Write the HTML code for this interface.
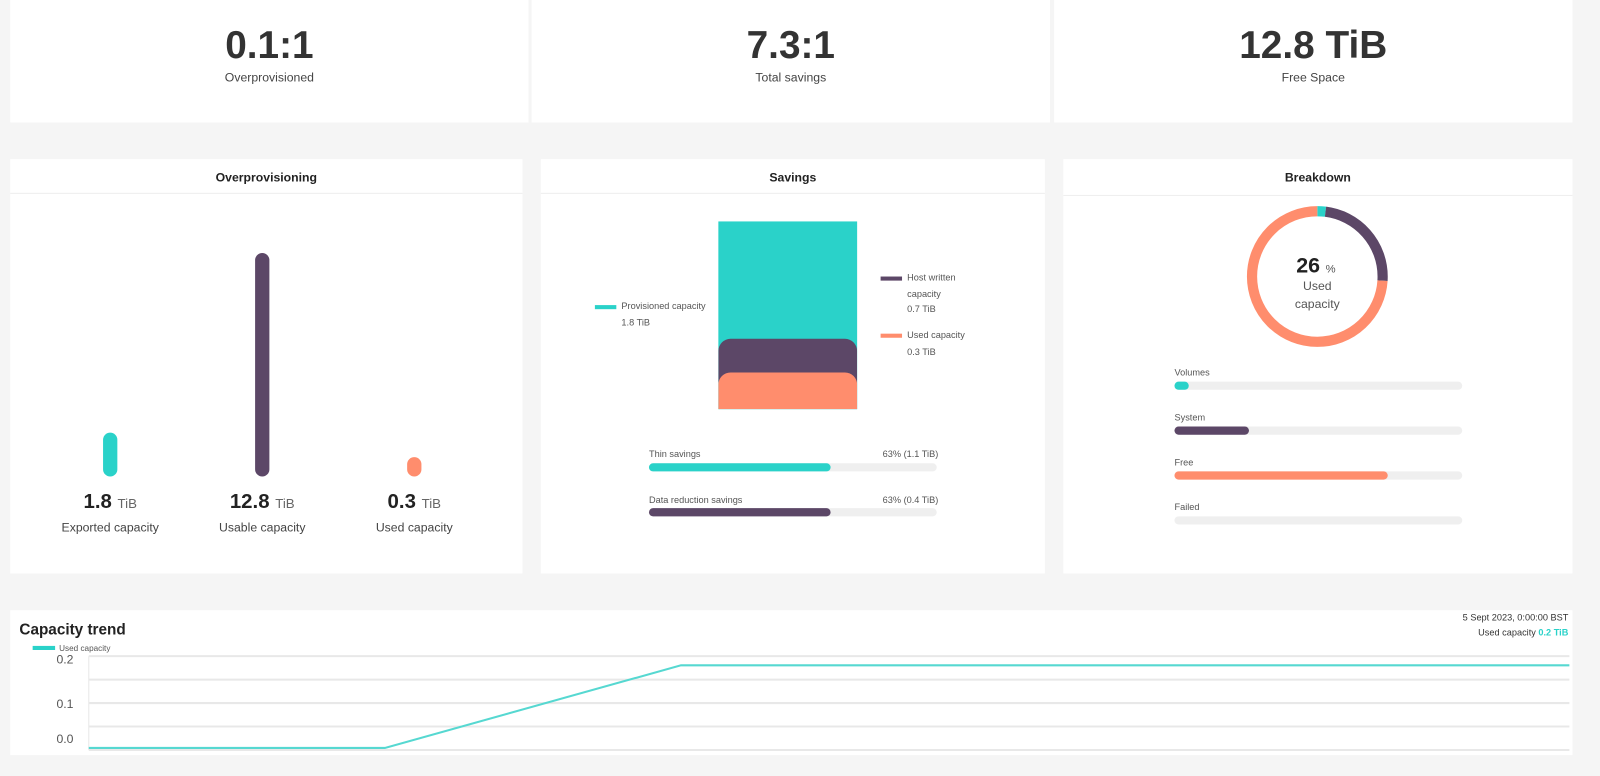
<!DOCTYPE html>
<html><head><meta charset="utf-8">
<style>
*{box-sizing:border-box;margin:0;padding:0}
body{width:1600px;height:776px;background:#f5f5f5;font-family:"Liberation Sans",sans-serif;color:#444;position:relative;overflow:hidden}
#root{position:absolute;left:0;top:0;width:1568px;height:760px;transform:scale(1.0204);transform-origin:0 0}
.card{position:absolute;background:#fff}
.abs{position:absolute}
.big{font-weight:bold;font-size:38px;color:#333;text-align:center;width:100%;position:absolute;top:24px}
.sub{font-size:12px;color:#444;text-align:center;width:100%;position:absolute;top:69px}
.hdr{position:absolute;left:0;right:0;top:0;height:34px;border-bottom:1px solid #eee;font-weight:bold;font-size:12px;text-align:center;line-height:36px;color:#222}
.sm{font-size:9px;color:#555}
.track{position:absolute;background:#efefef;border-radius:4px}
.fill{position:absolute;left:0;top:0;bottom:0;border-radius:4px}
</style></head><body>
<div id="root">
<div class="card" style="left:10px;top:0;width:508px;height:120px"><div class="big">0.1:1</div><div class="sub">Overprovisioned</div></div>
<div class="card" style="left:521px;top:0;width:508px;height:120px"><div class="big">7.3:1</div><div class="sub">Total savings</div></div>
<div class="card" style="left:1033px;top:0;width:508px;height:120px"><div class="big">12.8 TiB</div><div class="sub">Free Space</div></div>

<div class="card" style="left:10px;top:156px;width:502px;height:406px">
<div class="hdr">Overprovisioning</div>
<div id="opbars"></div>
</div>

<div class="card" style="left:530px;top:156px;width:494px;height:406px">
<div class="hdr">Savings</div>
<div class="abs" style="left:174px;top:61px;width:136px;height:184px;background:#2ad2c9;overflow:hidden">
 <div class="abs" style="left:0;right:0;top:115px;bottom:0;background:#5c4767;border-radius:12px 12px 0 0"></div>
 <div class="abs" style="left:0;right:0;top:148px;bottom:0;background:#ff8d6d;border-radius:12px 12px 0 0"></div>
</div>
<div class="abs" style="left:53px;top:141px"><span class="abs" style="left:0;top:2px;width:21px;height:4px;background:#2ad2c9"></span><span class="abs sm" style="left:26px;top:-2px;white-space:nowrap">Provisioned capacity</span><span class="abs sm" style="left:26px;top:14px;white-space:nowrap">1.8 TiB</span></div>
<div class="abs" style="left:333px;top:113px"><span class="abs" style="left:0;top:2px;width:21px;height:4px;background:#5c4767"></span><span class="abs sm" style="left:26px;top:-2px;white-space:nowrap">Host written</span><span class="abs sm" style="left:26px;top:14px">capacity</span><span class="abs sm" style="left:26px;top:29px;white-space:nowrap">0.7 TiB</span></div>
<div class="abs" style="left:333px;top:169px"><span class="abs" style="left:0;top:2px;width:21px;height:4px;background:#ff8d6d"></span><span class="abs sm" style="left:26px;top:-2px;white-space:nowrap">Used capacity</span><span class="abs sm" style="left:26px;top:15px;white-space:nowrap">0.3 TiB</span></div>
<div class="abs sm" style="left:106px;top:284px">Thin savings</div><div class="abs sm" style="left:335px;top:284px;white-space:nowrap">63% (1.1 TiB)</div>
<div class="track" style="left:106px;top:298px;width:282px;height:8px"><div class="fill" style="width:63%;background:#2ad2c9"></div></div>
<div class="abs sm" style="left:106px;top:329px">Data reduction savings</div><div class="abs sm" style="left:335px;top:329px;white-space:nowrap">63% (0.4 TiB)</div>
<div class="track" style="left:106px;top:342px;width:282px;height:8px"><div class="fill" style="width:63%;background:#5c4767"></div></div>
</div>

<div class="card" style="left:1042px;top:156px;width:499px;height:406px">
<div class="hdr" style="height:36px">Breakdown</div>
<svg class="abs" style="left:0;top:0" width="499" height="406">
 <g id="donut" transform="translate(249,115) rotate(-90)"></g>
 <text x="240" y="111" font-size="21" font-weight="bold" fill="#222" text-anchor="middle" font-family="Liberation Sans">26</text>
 <text x="262" y="111" font-size="11" fill="#555" text-anchor="middle" font-family="Liberation Sans">%</text>
 <text x="249" y="128" font-size="12" fill="#555" text-anchor="middle" font-family="Liberation Sans">Used</text>
 <text x="249" y="146" font-size="12" fill="#555" text-anchor="middle" font-family="Liberation Sans">capacity</text>
</svg>
<div id="bkbars"></div>
</div>

<div class="card" style="left:10px;top:598px;width:1531px;height:142px">
<div class="abs" style="left:9px;top:11px;font-weight:bold;font-size:15px;color:#222">Capacity trend</div>
<div class="abs" style="right:4px;top:2px;font-size:9px;color:#333">5 Sept 2023, 0:00:00 BST</div>
<div class="abs" style="right:4px;top:17px;font-size:9px;color:#333">Used capacity <span style="color:#2ad2c9;font-weight:bold">0.2 TiB</span></div>
</div>
<svg class="abs" style="left:0;top:0" width="1568" height="760" id="trend"></svg>
</div>

<script>
// Overprovisioning data
const opLabels=['Exported capacity','Usable capacity','Used capacity'];
const opValues=[1.8,12.8,0.3];
const opColors=['#2ad2c9','#5c4767','#ff8d6d'];
// Breakdown data
const bkLabels=['Volumes','System','Free','Failed'];
const bkValues=[2,26,74,0];
const bkColors=['#2ad2c9','#5c4767','#ff8d6d','#ccc'];
// Donut data (percent)
const donutValues=[2,24,74];
const donutColors=['#2ad2c9','#5c4767','#ff8d6d'];
// Trend data
const trendValues=[0,0,0.18,0.18,0.18,0.18];
const trendTicks=['0.0','0.1','0.2'];

const op=document.getElementById('opbars');
const opMax=Math.max(...opValues);
opValues.forEach((v,i)=>{
 const cx=98+i*149, base=311;
 const h=14+v/opMax*205;
 const b=document.createElement('div');
 
 
 b.className='abs';
 b.style.cssText=`left:${cx-7}px;top:${base-h}px;width:14px;height:${h}px;border-radius:7px;background:${opColors[i]}`;
 op.appendChild(b);
 const t=document.createElement('div');
 
 
 t.className='abs';
 t.style.cssText=`left:${cx-100}px;width:200px;top:325px;text-align:center;font-size:20px;font-weight:bold;color:#222`;
 t.innerHTML=v+' <span style="font-size:13px;font-weight:normal;color:#666">TiB</span>';
 op.appendChild(t);
 const l=document.createElement('div');
 
 
 l.className='abs';
 l.style.cssText=`left:${cx-100}px;width:200px;top:354px;text-align:center;font-size:12px;color:#444`;
 l.textContent=opLabels[i];
 op.appendChild(l);
});

const bk=document.getElementById('bkbars');
bkValues.forEach((v,i)=>{
 const y=204+i*44;
 const l=document.createElement('div');
 
 
 l.className='abs sm';l.style.cssText=`left:109px;top:${y}px`;l.textContent=bkLabels[i];bk.appendChild(l);
 const tr=document.createElement('div');
 
 
 tr.className='track';tr.style.cssText=`left:109px;top:${y+14}px;width:282px;height:8px`;
 const f=document.createElement('div');f.className='fill';
 f.style.cssText=`width:${v>0?Math.max(v,5):0}%;background:${bkColors[i]}`;tr.appendChild(f);bk.appendChild(tr);
});

const NS='http://www.w3.org/2000/svg';
const dg=document.getElementById('donut');
const R=64,C=2*Math.PI*R;
let acc=0;
donutValues.forEach((v,i)=>{
 const c=document.createElementNS(NS,'circle');
 
 
 c.setAttribute('r',R);c.setAttribute('fill','none');c.setAttribute('stroke',donutColors[i]);c.setAttribute('stroke-width',10);
 c.setAttribute('stroke-dasharray',`${v/100*C} ${C}`);c.setAttribute('stroke-dashoffset',-acc/100*C);
 acc+=v;dg.appendChild(c);
});

const sv=document.getElementById('trend');
const x0=87,x1=1538,yTop=643,yBot=733,vMax=0.2;
const xs=i=>x0+i*(x1-x0)/(trendValues.length-1);
const ys=v=>yBot-v/vMax*(yBot-yTop);
[643,666,689,712,735].forEach(y=>{const l=document.createElementNS(NS,'line');l.setAttribute('x1',x0);l.setAttribute('x2',x1);l.setAttribute('y1',y);l.setAttribute('y2',y);l.setAttribute('stroke','#e8e8e8');l.setAttribute('stroke-width',2);sv.appendChild(l);});
const vl=document.createElementNS(NS,'line');vl.setAttribute('x1',x0);vl.setAttribute('x2',x0);vl.setAttribute('y1',643);vl.setAttribute('y2',735);vl.setAttribute('stroke','#e8e8e8');sv.appendChild(vl);
trendTicks.forEach((t,i)=>{const tx=document.createElementNS(NS,'text');
 
 
 tx.setAttribute('x',72);tx.setAttribute('y',[728,694,650][i]);tx.setAttribute('text-anchor','end');tx.setAttribute('font-size',12);tx.setAttribute('fill','#555');tx.setAttribute('font-family','Liberation Sans');tx.textContent=t;sv.appendChild(tx);});
const p=document.createElementNS(NS,'polyline');


p.setAttribute('points',trendValues.map((v,i)=>xs(i)+','+ys(v)).join(' '));
p.setAttribute('fill','none');p.setAttribute('stroke','#56d8d1');p.setAttribute('stroke-width',2);sv.appendChild(p);
const lg=document.createElementNS(NS,'rect');lg.setAttribute('x',32);lg.setAttribute('y',633);lg.setAttribute('width',22);lg.setAttribute('height',4);lg.setAttribute('fill','#2ad2c9');sv.appendChild(lg);
const lt=document.createElementNS(NS,'text');


lt.setAttribute('x',58);lt.setAttribute('y',638);lt.setAttribute('font-size',8);lt.setAttribute('fill','#555');lt.setAttribute('font-family','Liberation Sans');lt.textContent='Used capacity';sv.appendChild(lt);
</script>
</body></html>
